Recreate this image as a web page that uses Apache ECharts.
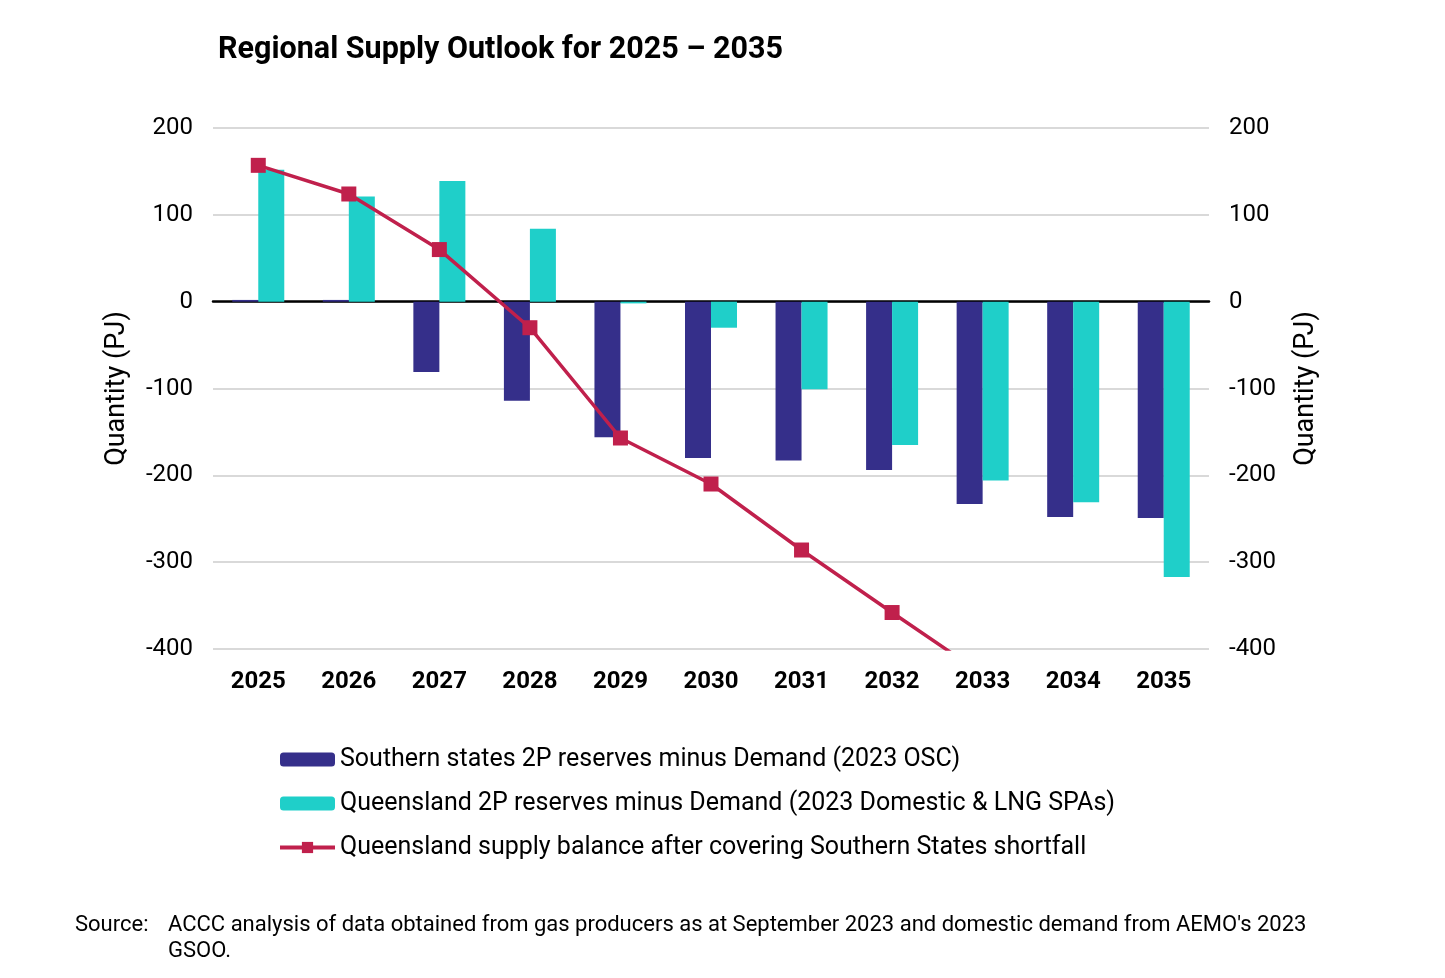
<!DOCTYPE html>
<html>
<head>
<meta charset="utf-8">
<script src="https://cdn.jsdelivr.net/npm/echarts@6/dist/echarts.min.js"></script>
<style>
  html, body { margin: 0; padding: 0; background: #fff; }
  #chart { width: 1445px; height: 978px; }
</style>
</head>
<body>
<div id="chart"></div>
<script>
const years = ['2025', '2026', '2027', '2028', '2029', '2030', '2031', '2032', '2033', '2034', '2035'];
const southern = [2, 2, -81, -114, -156, -180, -183, -194, -233, -248, -249];
const queensland = [152, 121, 139, 84, -2, -30, -101, -165, -206, -231, -317];
const balance = [157, 124, 60, -30, -157, -210, -286, -358, -429, -500, -570];
const yTicks = { min: -400, max: 200, interval: 100 };

const names = [
  'Southern states 2P reserves minus Demand (2023 OSC)',
  'Queensland 2P reserves minus Demand (2023 Domestic & LNG SPAs)',
  'Queensland supply balance after covering Southern States shortfall'
];

const chart = echarts.init(document.getElementById('chart'));
const font = 'Roboto, "Liberation Sans", Arial, sans-serif';
const lineColor = '#c0204c';

const yAxisBase = {
  type: 'value',
  min: yTicks.min,
  max: yTicks.max,
  interval: yTicks.interval,
  name: 'Quantity (PJ)',
  nameLocation: 'middle',
  nameTextStyle: { fontSize: 27, color: '#000', fontFamily: font },
  axisLine: { show: false },
  axisTick: { show: false },
  axisLabel: { fontSize: 24, color: '#000', fontFamily: font, margin: 20, padding: [4, 0, 0, 0] },
  splitLine: { lineStyle: { color: '#d9d9d9', width: 2 } }
};

chart.setOption({
  animation: false,
  textStyle: { fontFamily: font },
  title: {
    text: 'Regional Supply Outlook for 2025 \u2013 2035',
    left: 213,
    top: 30,
    textStyle: { fontSize: 30.5, fontWeight: 'bold', color: '#000', fontFamily: font }
  },
  grid: { left: 213, right: 236, top: 128, bottom: 329 },
  legend: {
    orient: 'vertical',
    left: 278,
    top: 747,
    padding: 0,
    itemWidth: 55,
    itemHeight: 14,
    itemGap: 19,
    textStyle: { fontSize: 25, color: '#000', fontFamily: font },
    data: [
      { name: names[0] },
      { name: names[1] },
      { name: names[2], lineStyle: { width: 4, color: lineColor }, itemStyle: { color: lineColor } }
    ]
  },
  xAxis: {
    type: 'category',
    data: years,
    axisLine: { lineStyle: { color: '#000', width: 2.5 } },
    axisTick: { show: false },
    axisLabel: { fontSize: 24, fontWeight: 'bold', color: '#000', fontFamily: font, margin: 21, interval: 0 }
  },
  yAxis: [
    Object.assign({}, yAxisBase, { position: 'left', nameGap: 82 }),
    Object.assign({}, yAxisBase, { position: 'right', nameGap: 84, nameRotate: 90 })
  ],
  series: [
    {
      name: names[0],
      type: 'bar',
      data: southern,
      barWidth: 26,
      barGap: '0%',
      itemStyle: { color: '#352f8a' }
    },
    {
      name: names[1],
      type: 'bar',
      data: queensland,
      barWidth: 26,
      barGap: '0%',
      itemStyle: { color: '#1fcfc9' }
    },
    {
      name: names[2],
      type: 'line',
      data: balance,
      clip: true,
      symbol: 'rect',
      symbolSize: 15,
      lineStyle: { color: lineColor, width: 3.5 },
      itemStyle: { color: lineColor },
      z: 5
    }
  ],
  graphic: [
    {
      type: 'text',
      left: 75,
      top: 912,
      style: { text: 'Source:', fontSize: 22, lineHeight: 26, fill: '#000', fontFamily: font }
    },
    {
      type: 'text',
      left: 168,
      top: 912,
      style: {
        text: 'ACCC analysis of data obtained from gas producers as at September 2023 and domestic demand from AEMO\'s 2023\nGSOO.',
        fontSize: 22,
        lineHeight: 26,
        fill: '#000',
        fontFamily: font
      }
    }
  ]
});
</script>
</body>
</html>
